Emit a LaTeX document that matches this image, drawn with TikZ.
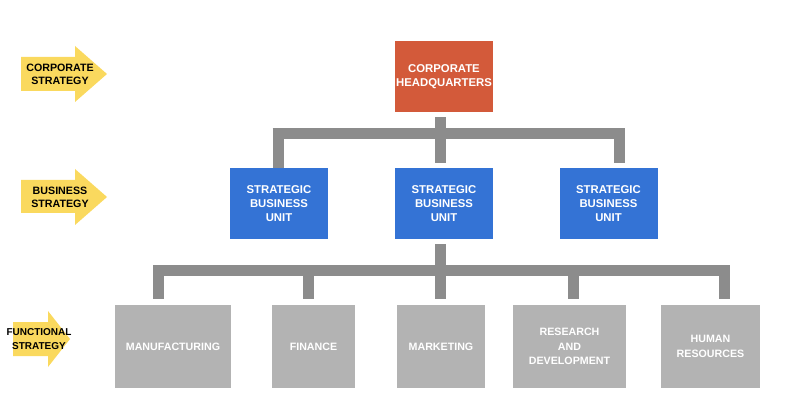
\documentclass[tikz,border=0pt]{standalone}
\usepackage{fontspec}
\setmainfont{Liberation Sans}
\begin{document}
\begin{tikzpicture}[x=0.75pt,y=-0.75pt,
  box/.style={draw=none,align=center,text=white,font=\bfseries\fontsize{8.5}{10.5}\selectfont,inner sep=0pt},
  hqbox/.style={box,fill=hqred,minimum width=73.5pt,minimum height=53.25pt},
  sbubox/.style={box,fill=sbublue,minimum width=73.5pt,minimum height=53.25pt},
  fnbox/.style={box,fill=fngray,minimum height=62.25pt,font=\bfseries\fontsize{8}{11}\selectfont},
  conn/.style={draw=conngray,line width=8.25pt},
  yarrow/.style={fill=yel},
  lab/.style={align=center,font=\bfseries\fontsize{8}{10}\selectfont,text=black,inner sep=0pt}]
\definecolor{hqred}{HTML}{D35A3A}
\definecolor{sbublue}{HTML}{3473D5}
\definecolor{fngray}{HTML}{B3B3B3}
\definecolor{conngray}{HTML}{8C8C8C}
\definecolor{yel}{HTML}{FAD95E}
\useasboundingbox (0,0) rectangle (800,417);
% boxes
\node[hqbox] (hq) at (444,76.5) {CORPORATE\\HEADQUARTERS};
\node[sbubox] (s1) at (279,203.5) {STRATEGIC\\BUSINESS\\UNIT};
\node[sbubox] (s2) at (444,203.5) {STRATEGIC\\BUSINESS\\UNIT};
\node[sbubox] (s3) at (608.5,203.5) {STRATEGIC\\BUSINESS\\UNIT};
\node[fnbox,minimum width=87pt] (f1) at (173,346.5) {MANUFACTURING};
\node[fnbox,minimum width=62.25pt] (f2) at (313.5,346.5) {FINANCE};
\node[fnbox,minimum width=66pt] (f3) at (441,346.5) {MARKETING};
\node[fnbox,minimum width=84.75pt] (f4) at (569.5,346.5) {RESEARCH\\AND\\DEVELOPMENT};
\node[fnbox,minimum width=74.25pt] (f5) at (710.5,346.5) {HUMAN\\RESOURCES};
% connectors top
\coordinate (ta) at (278,133.5);
\coordinate (tb) at (619,133.5);
\coordinate (tc) at (440.5,133.5);
\draw[conn] (ta) -- (tb);
\draw[conn] (hq.south) ++(-3.5,5) coordinate (hqd) -- (tc);
\draw[conn] ([yshift=3.75pt]ta) -- (ta |- s1.north) ++(0,-5);
\draw[conn] (ta) -- (278,163) coordinate (d1);
\draw[conn] (tc) -- (440.5,163) coordinate (d2);
\draw[conn] (tb) -- (619,163) coordinate (d3);
% connectors bottom
\coordinate (ba) at (158.5,270.5);
\coordinate (bb) at (724,270.5);
\coordinate (bc) at (440.5,270.5);
\draw[conn] ([xshift=-4.125pt]ba) -- ([xshift=4.125pt]bb);
\draw[conn] (s2.south) ++(-3.5,5) -- (bc);
\draw[conn] (ba) -- (158.5,299);
\draw[conn] (308.5,270.5) -- (308.5,299);
\draw[conn] (bc) -- (440.5,299);
\draw[conn] (573.5,270.5) -- (573.5,299);
\draw[conn] (bb) -- (724,299);
% top bar ends squared
\draw[conn] ([xshift=-4.125pt]ta) -- ([xshift=4.125pt]tb);
% yellow arrows
\fill[yarrow] (21,57)--(75,57)--(75,46)--(107,74)--(75,102)--(75,91)--(21,91)--cycle;
\node[lab] (a1) at (60,74) {CORPORATE\\STRATEGY};
\fill[yarrow] (21,180)--(75,180)--(75,169)--(107,197)--(75,225)--(75,213)--(21,213)--cycle;
\node[lab] (a2) at (60,197) {BUSINESS\\STRATEGY};
\fill[yarrow] (13,322)--(48,322)--(48,311)--(70,339)--(48,367)--(48,356)--(13,356)--cycle;
\node[lab,font=\bfseries\fontsize{7.5}{10}\selectfont] (a3) at (39,339) {FUNCTIONAL\\STRATEGY};
\end{tikzpicture}
\end{document}
